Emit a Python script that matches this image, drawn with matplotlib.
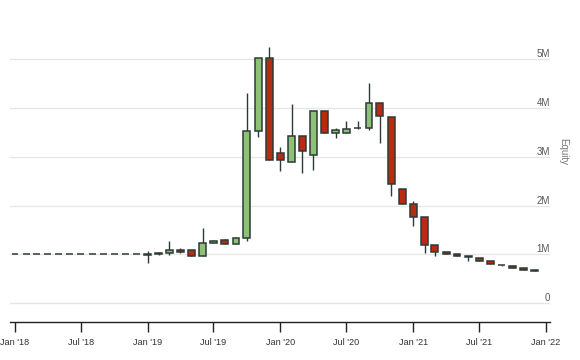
import numpy as np
import matplotlib
matplotlib.use("Agg")
import matplotlib.pyplot as plt
import matplotlib.dates as mdates
import matplotlib.ticker as mticker
from datetime import date

plt.rcParams['font.family'] = ['Liberation Sans', 'DejaVu Sans']

# Data: monthly equity candles (millions)
months = [date(2018 + i // 12, i % 12 + 1, 1) for i in range(48)]
opens = [1.0] * 12 + [
    1.00, 1.00, 1.02, 1.09, 1.086, 0.963, 1.23, 1.29, 1.21, 1.33, 3.53, 5.02,
    3.07, 2.89, 3.42, 3.03, 3.93, 3.48, 3.48, 3.58, 3.59, 4.10, 3.82, 2.34,
    2.03, 1.76, 1.19, 1.045, 1.00, 0.96, 0.92, 0.867, 0.79, 0.76, 0.72, 0.68]
highs = [1.0] * 12 + [
    1.07, 1.05, 1.28, 1.13, 1.086, 1.54, 1.29, 1.31, 1.36, 4.31, 5.02, 5.25,
    3.20, 4.08, 3.42, 3.93, 3.93, 3.59, 3.72, 3.72, 4.51, 4.10, 3.82, 2.34,
    2.09, 1.76, 1.19, 1.045, 1.00, 0.96, 0.92, 0.867, 0.79, 0.785, 0.72, 0.68]
lows = [1.0] * 12 + [
    0.83, 0.99, 0.98, 1.02, 0.963, 0.963, 1.23, 1.21, 1.21, 1.28, 3.41, 2.93,
    2.70, 2.89, 2.66, 2.72, 3.48, 3.39, 3.48, 3.56, 3.54, 3.27, 2.20, 2.03,
    1.59, 1.02, 0.975, 1.01, 0.96, 0.87, 0.86, 0.80, 0.76, 0.72, 0.68, 0.66]
closes = [1.0] * 12 + [
    0.995, 1.02, 1.09, 1.045, 0.963, 1.235, 1.27, 1.21, 1.33, 3.52, 5.02, 2.93,
    2.93, 3.42, 3.11, 3.93, 3.48, 3.55, 3.57, 3.59, 4.10, 3.83, 2.44, 2.03,
    1.76, 1.19, 1.045, 1.01, 0.965, 0.945, 0.86, 0.80, 0.775, 0.72, 0.68, 0.665]

up_color = '#8cc176'
down_color = '#b82b10'
edge = '#2d3a38'

x = mdates.date2num(months)
o = np.array(opens) * 1e6
h = np.array(highs) * 1e6
l = np.array(lows) * 1e6
c = np.array(closes) * 1e6
colors = [up_color if cc >= oo else down_color for oo, cc in zip(o, c)]

fig = plt.figure(figsize=(5.8, 3.6), dpi=100)
ax = fig.add_axes([10 / 580, 38 / 360, 540 / 580, 312 / 360])

# wicks then bodies
ax.vlines(x, l, h, color=edge, linewidth=1.0, zorder=2)
ax.bar(x, np.abs(c - o), bottom=np.minimum(o, c), width=19, color=colors,
       edgecolor=edge, linewidth=1.1, zorder=3)

x0 = mdates.date2num(date(2018, 1, 1))
ax.set_xlim(x0 - 13.8, x0 + 1472)
ax.set_ylim(-0.383e6, 6.0e6)

# y grid + labels inside on the right
ax.set_yticks([0, 1e6, 2e6, 3e6, 4e6, 5e6])
ax.yaxis.set_major_formatter(mticker.FuncFormatter(
    lambda v, p: '0' if v == 0 else f'{int(v / 1e6)}M'))
ax.grid(axis='y', color='#e6e6e6', linewidth=1.0, zorder=0)
ax.set_axisbelow(True)

ax.yaxis.tick_right()
ax.tick_params(axis='y', length=0, pad=0, labelsize=7, labelcolor='#555555')
for lab in ax.get_yticklabels():
    lab.set_horizontalalignment('right')
    lab.set_verticalalignment('bottom')

# x axis
ax.xaxis.set_major_locator(mdates.MonthLocator(bymonth=[1, 7]))
ax.xaxis.set_major_formatter(mdates.DateFormatter("%b '%y"))
ax.tick_params(axis='x', direction='out', length=7, width=1.0, color='#222222',
               pad=4.5, labelsize=6.6, labelcolor='#333333')

for side in ['top', 'left', 'right']:
    ax.spines[side].set_visible(False)
ax.spines['bottom'].set_color('#222222')
ax.spines['bottom'].set_linewidth(1.0)

fig.text(563 / 580, 1 - 151 / 360, 'Equity', rotation=270, ha='center', va='center',
         fontsize=7, color='#777777')

fig.savefig('out.png', dpi=100)
